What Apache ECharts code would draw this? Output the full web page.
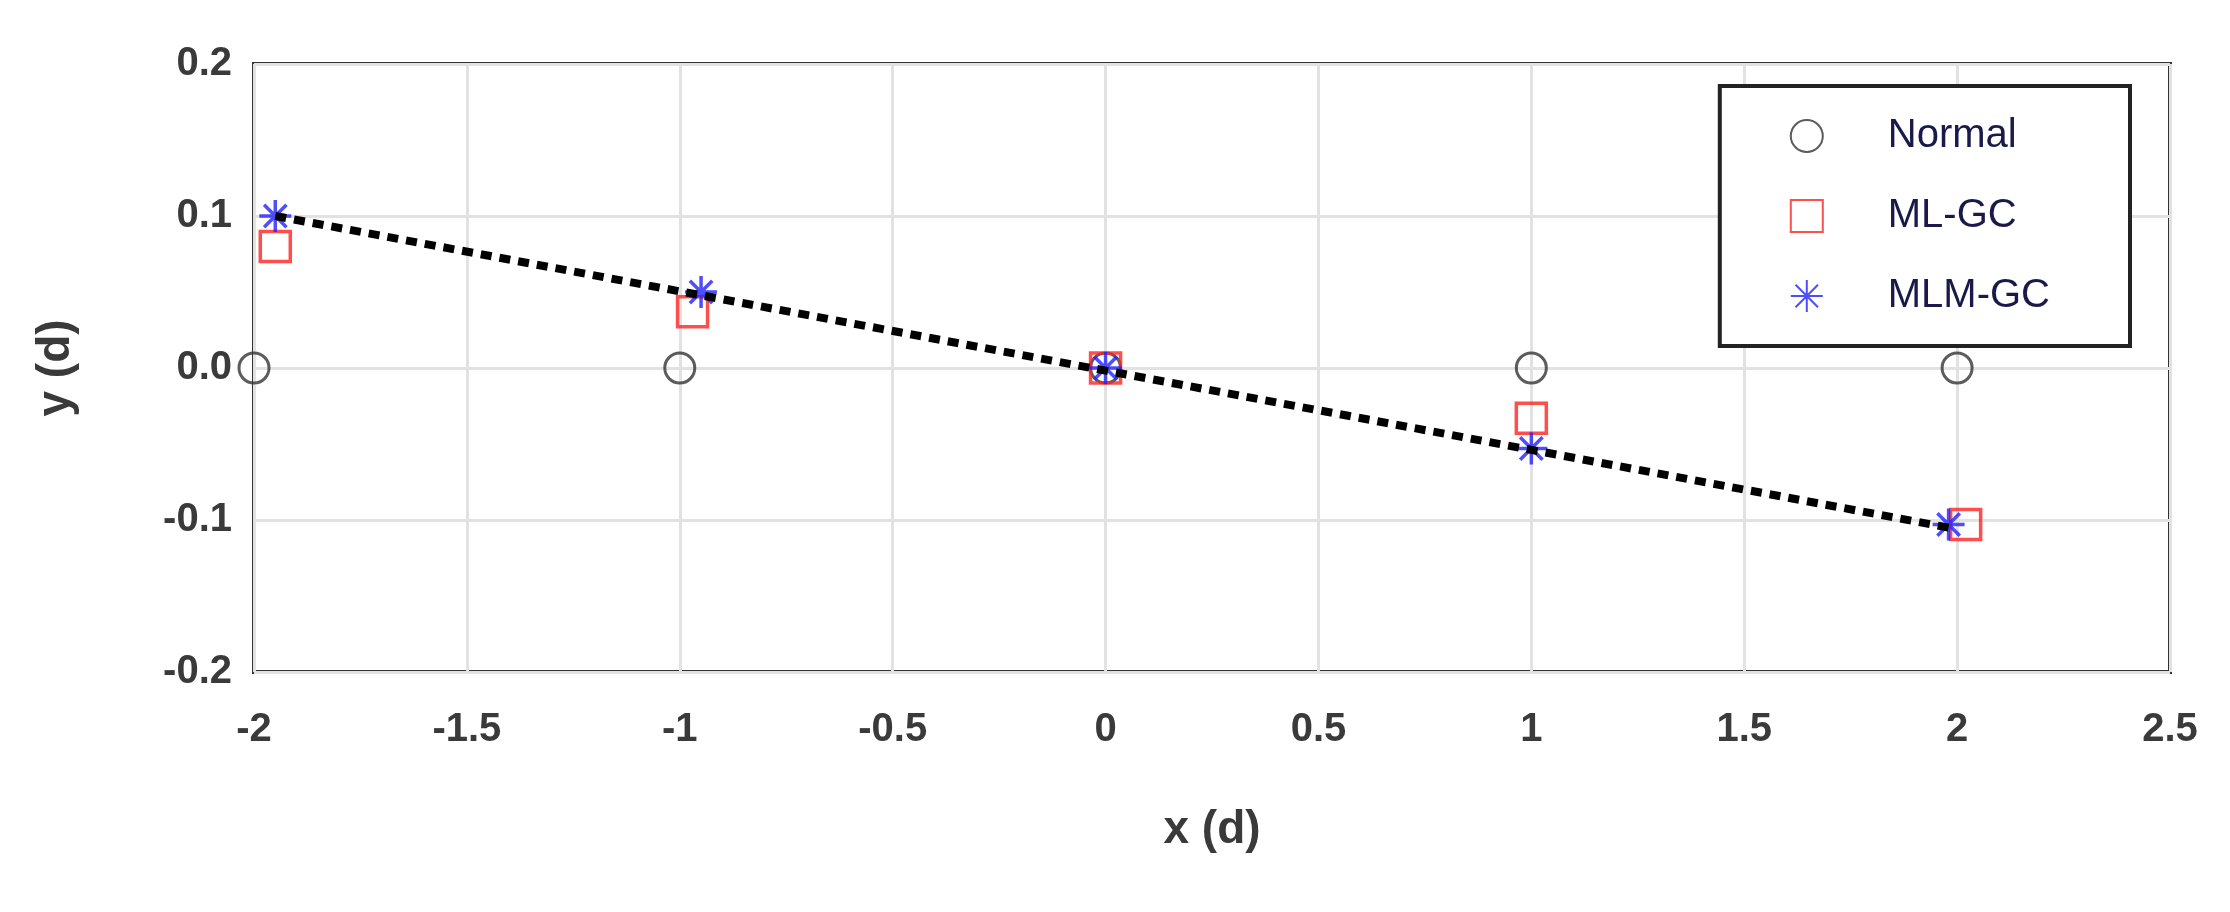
<!DOCTYPE html><html><head><meta charset="utf-8">
<script src="https://cdn.jsdelivr.net/npm/echarts@6/dist/echarts.min.js"></script>
<style>html,body{margin:0;background:#fff}#c{width:2230px;height:912px}</style></head><body><div id="c"></div>
<script>
const normal=[[-2,0],[-1,0],[0,0],[1,0],[2,0]];
const mlgc=[[-1.95,0.08],[-0.97,0.037],[0,0],[1,-0.033],[2.02,-0.103]];
const mlmgc=[[-1.95,0.1],[-0.95,0.05],[0,0],[1,-0.053],[1.98,-0.103]];
const fitLine=[[-1.95,0.1],[1.98,-0.105]];
const xTitle='x (d)', yTitle='y (d)';
const lbl={color:'#3a3a3a',fontWeight:'bold',fontSize:40,fontFamily:'Liberation Sans'};
const ch=echarts.init(document.getElementById('c'));
ch.setOption({
 animation:false,
 grid:{left:254,right:60,top:64,bottom:240,show:true,borderColor:'#333',borderWidth:4},
 xAxis:{type:'value',min:-2,max:2.5,interval:0.5,name:xTitle,nameLocation:'middle',nameGap:135,nameTextStyle:{...lbl,fontSize:46},
  axisLabel:{...lbl,margin:38},axisLine:{show:false},axisTick:{show:false},splitLine:{lineStyle:{color:'#e2e2e2',width:3}}},
 yAxis:{type:'value',min:-0.2,max:0.2,interval:0.1,name:yTitle,nameLocation:'middle',nameGap:175,nameTextStyle:{...lbl,fontSize:46},
  axisLabel:{...lbl,margin:22,formatter:v=>v===0?'0.0':(Math.round(v*10)/10).toString()},axisLine:{show:false},axisTick:{show:false},splitLine:{lineStyle:{color:'#e2e2e2',width:3}}},
 legend:{right:100,top:86,orient:'vertical',itemGap:40,padding:[30,80,30,70],borderColor:'#222',borderWidth:4,backgroundColor:'#fff',
  textStyle:{fontSize:40,fontFamily:'Liberation Sans',color:'#1a1a4a',padding:[0,0,0,60]},itemWidth:32,itemHeight:32,
  data:['Normal','ML-GC','MLM-GC']},
 series:[
  {name:'fit',type:'line',data:fitLine,symbol:'none',lineStyle:{color:'#000',width:8,type:[11,8]},z:5},
  {name:'Normal',type:'scatter',data:normal,symbol:'circle',symbolSize:30,itemStyle:{color:'transparent',borderColor:'#333',borderWidth:3}},
  {name:'ML-GC',type:'scatter',data:mlgc,symbol:'rect',symbolSize:30,itemStyle:{color:'transparent',borderColor:'#f22',borderWidth:3.5}},
  {name:'MLM-GC',type:'scatter',data:mlmgc,symbol:'path://M0,-10L0,10M-10,0L10,0M-7,-7L7,7M-7,7L7,-7',symbolSize:32,itemStyle:{color:'#00f',borderColor:'#22f',borderWidth:3.5}}
 ]
});
</script></body></html>
